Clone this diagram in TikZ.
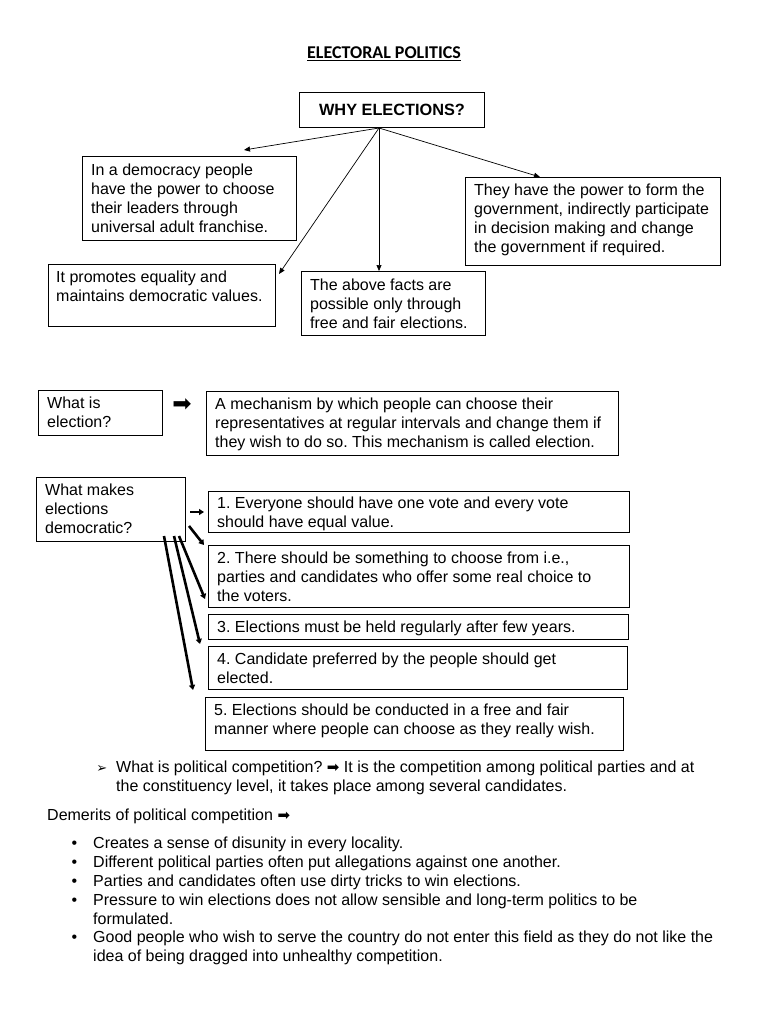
\documentclass[tikz,border=0pt]{standalone}
\usepackage{fontspec}
\setmainfont{Liberation Sans}
\newfontfamily\titlefont{Carlito}
\newfontfamily\symfont{DejaVu Sans}
\usetikzlibrary{arrows.meta}
\frenchspacing
\begin{document}
\begin{tikzpicture}[x=1pt,y=-1pt,
  box/.style={draw, line width=1pt, inner sep=0, anchor=north west},
  txt/.style={inner sep=0, anchor=north west, align=left, font=\frenchspacing\fontsize{16}{18.8}\selectfont},
  thinarrow/.style={line width=0.7pt, -{Triangle[length=6pt,width=5pt]}},
  thickarrow/.style={line width=2.6pt, -{Triangle[length=5pt,width=6pt]}}]
\fill[white] (0,0) rectangle (768,1024);
\useasboundingbox (0,0) rectangle (768,1024);

% title
\node[inner sep=0, font=\titlefont\bfseries\fontsize{18}{20}\selectfont] (title) at (384,54) {\underline{ELECTORAL POLITICS}};

% why elections
\node[box, minimum width=185, minimum height=35] (why) at (299,92) {};
\node[inner sep=0, font=\bfseries\fontsize{16.3}{18}\selectfont] (whyt) at (why.center) {WHY ELECTIONS?};

\node[box, minimum width=214, minimum height=84] (boxA) at (82,156) {};
\node[txt] (tA) at (91,164) {In a democracy people\\have the power to choose\\their leaders through\\universal adult franchise.};

\node[box, minimum width=255, minimum height=88] (boxB) at (465,177) {};
\node[txt] (tB) at (474,184) {They have the power to form the\\government, indirectly participate\\in decision making and change\\the government if required.};

\node[box, minimum width=227, minimum height=62] (boxC) at (48,264) {};
\node[txt] (tC) at (56,271) {It promotes equality and\\maintains democratic values.};

\node[box, minimum width=184, minimum height=64] (boxD) at (301,271) {};
\node[txt] (tD) at (310,279) {The above facts are\\possible only through\\free and fair elections.};

\coordinate (o) at (379,128);
\coordinate (eA) at (244,150);
\coordinate (eB) at (540,177);
\coordinate (eC) at (279,274);
\draw[thinarrow] (o) -- (eA);
\draw[thinarrow] (o) -- (eB);
\draw[thinarrow] (o) -- (eC);
\draw[thinarrow] (o) -- (o |- boxD.north);

% what is election
\node[box, minimum width=124, minimum height=45] (q1) at (38,390) {};
\node[txt] (q1t) at (47,397) {What is\\election?};
\node[box, minimum width=412, minimum height=64] (a1) at (206,391) {};
\node[txt] (a1t) at (215,398) {A mechanism by which people can choose their\\representatives at regular intervals and change them if\\they wish to do so. This mechanism is called election.};
\node[inner sep=0, font=\symfont\fontsize{23}{24}\selectfont] (arr1) at (182,405) {➡};

% what makes elections democratic
\node[box, minimum width=149, minimum height=64] (q2) at (36,477) {};
\node[txt] (q2t) at (45,484) {What makes\\elections\\democratic?};

\node[box, minimum width=421, minimum height=41] (c1) at (208,491) {};
\node[txt] (c1t) at (217,497) {1. Everyone should have one vote and every vote\\should have equal value.};
\node[box, minimum width=421, minimum height=62] (c2) at (208,545) {};
\node[txt] (c2t) at (217,552) {2. There should be something to choose from i.e.,\\parties and candidates who offer some real choice to\\the voters.};
\node[box, minimum width=420, minimum height=25] (c3) at (208,614) {};
\node[txt] (c3t) at (217,621) {3. Elections must be held regularly after few years.};
\node[box, minimum width=419, minimum height=43] (c4) at (208,646) {};
\node[txt] (c4t) at (217,653) {4. Candidate preferred by the people should get\\elected.};
\node[box, minimum width=418, minimum height=53] (c5) at (205,697) {};
\node[txt] (c5t) at (214,704) {5. Elections should be conducted in a free and fair\\manner where people can choose as they really wish.};

\coordinate (s1) at (190,512); \coordinate (e1) at (204,512);
\coordinate (s2) at (189,526); \coordinate (e2) at (204,545);
\coordinate (s3) at (179,536); \coordinate (e3) at (205,599);
\coordinate (s4) at (174,536); \coordinate (e4) at (200,644);
\coordinate (s5) at (164,536); \coordinate (e5) at (193,690);
\draw[thickarrow] (s1) -- (e1);
\draw[thickarrow] (s2) -- (e2);
\draw[thickarrow] (s3) -- (e3);
\draw[thickarrow] (s4) -- (e4);
\draw[thickarrow] (s5) -- (e5);

% political competition
\node[txt] (pc) at (116,761) {\llap{{\symfont\fontsize{13}{14}\selectfont ➢}\hspace{9pt}}What is political competition? {\symfont\fontsize{15}{14}\selectfont ➡} It is the competition among political parties and at\\the constituency level, it takes place among several candidates.};

\node[txt] (dm) at (47,809) {Demerits of political competition {\symfont\fontsize{15}{14}\selectfont ➡}};

\node[txt] (list) at (93,837) {\llap{•\hspace{16pt}}Creates a sense of disunity in every locality.\\\llap{•\hspace{16pt}}Different political parties often put allegations against one another.\\\llap{•\hspace{16pt}}Parties and candidates often use dirty tricks to win elections.\\\llap{•\hspace{16pt}}Pressure to win elections does not allow sensible and long-term politics to be\\formulated.\\\llap{•\hspace{16pt}}Good people who wish to serve the country do not enter this field as they do not like the\\idea of being dragged into unhealthy competition.};
\end{tikzpicture}
\end{document}
